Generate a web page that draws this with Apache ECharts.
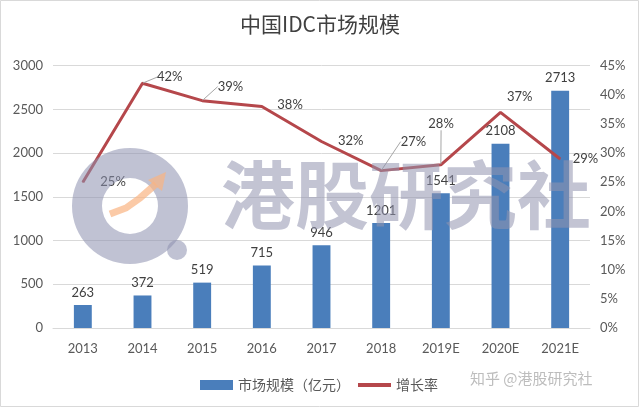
<!DOCTYPE html>
<html><head><meta charset="utf-8">
<script src="https://cdn.jsdelivr.net/npm/echarts@6/dist/echarts.min.js"></script>
<style>html,body{margin:0;padding:0;background:#fff}#c{width:640px;height:408px}</style>
</head><body><div id="c"></div>
<script>
var categories = ['2013','2014','2015','2016','2017','2018','2019E','2020E','2021E'];
var marketSize = [263, 372, 519, 715, 946, 1201, 1541, 2108, 2713];
var growthRate = [25, 42, 39, 38, 32, 27, 28, 37, 29];
var leftTicks = {min: 0, max: 3000, interval: 500};
var rightTicks = {min: 0, max: 45, interval: 5};
var labelOffsets = [[17,0],[14,-6],[15,-14],[15,-2],[16,-1],[19,-29],[-13,-41],[6,-16],[12,0]];
var withLeader = [false, true, true, false, false, true, true, false, false];

var numFont = 'Lato, "Noto Sans CJK SC", sans-serif';
var cjkFont = '"Noto Sans CJK SC", sans-serif';
var chart = echarts.init(document.getElementById('c'), null, {renderer: 'canvas'});
var lineData = growthRate.map(function (v, i) {
  return {value: v, labelLine: {show: withLeader[i]}};
});
chart.setOption({
  animation: false,
  backgroundColor: '#fff',
  title: {
    text: '中国IDC市场规模', left: 'center', top: 9,
    textStyle: {fontFamily: cjkFont, fontSize: 21, fontWeight: 'normal', color: '#404040'}
  },
  grid: {left: 53, right: 50, top: 65.7, bottom: 80},
  legend: {
    left: 195, top: 373, itemWidth: 33, itemHeight: 10, itemGap: 8,
    textStyle: {fontFamily: cjkFont, fontSize: 14, color: '#595959'},
    data: [
      {name: '市场规模（亿元）', icon: 'rect'},
      {name: '增长率', icon: 'path://M0,0H33V4H0Z'}
    ]
  },
  xAxis: {
    type: 'category', data: categories,
    axisLine: {lineStyle: {color: '#d9d9d9'}},
    axisTick: {show: false},
    axisLabel: {fontFamily: numFont, fontSize: 13, color: '#595959', margin: 14}
  },
  yAxis: [{
    type: 'value', min: leftTicks.min, max: leftTicks.max, interval: leftTicks.interval,
    axisLine: {show: false}, axisTick: {show: false},
    axisLabel: {fontFamily: numFont, fontSize: 13, color: '#595959', margin: 10,
      formatter: function (v) { return String(v); }},
    splitLine: {lineStyle: {color: '#d9d9d9'}}
  }, {
    type: 'value', min: rightTicks.min, max: rightTicks.max, interval: rightTicks.interval,
    axisLine: {show: false}, axisTick: {show: false},
    axisLabel: {fontFamily: numFont, fontSize: 13, color: '#595959', margin: 10, formatter: '{value}%'},
    splitLine: {show: false}
  }],
  series: [{
    name: '市场规模（亿元）', type: 'bar', data: marketSize, barWidth: '30%',
    itemStyle: {color: '#4a7ebb'},
    label: {show: true, position: 'top', distance: 6, fontFamily: numFont, fontSize: 13, color: '#404040'}
  }, {
    name: '增长率', type: 'line', yAxisIndex: 1, data: lineData,
    symbol: 'circle', symbolSize: 1, showSymbol: true,
    itemStyle: {color: '#b5474b'},
    lineStyle: {color: '#b5474b', width: 3},
    label: {show: true, position: 'right', distance: 0, fontFamily: numFont, fontSize: 13, color: '#404040',
      formatter: function (p) { return p.value + '%'; }},
    labelLine: {show: false, lineStyle: {color: '#a6a6a6', width: 1}},
    labelLayout: function (p) {
      var o = labelOffsets[p.dataIndex];
      return {dx: o[0], dy: o[1]};
    }
  }],
  graphic: [
    {type: 'rect', shape: {x: 0.5, y: 0.5, width: 638, height: 406}, style: {fill: 'none', stroke: '#d9d9d9', lineWidth: 1}, z: 100},
    {type: 'ring', shape: {cx: 130, cy: 206, r: 58, r0: 28}, style: {fill: 'rgba(140,143,175,0.55)'}, z: 50},
    {type: 'circle', shape: {cx: 177, cy: 250, r: 10}, style: {fill: 'rgba(140,143,175,0.55)'}, z: 50},
    {type: 'polyline', shape: {points: [[110, 214], [126, 208], [140, 198], [156, 184]]}, style: {stroke: 'rgba(250,180,130,0.7)', lineWidth: 7, fill: 'none'}, z: 50},
    {type: 'polygon', shape: {points: [[148, 180], [166, 172], [162, 191]]}, style: {fill: 'rgba(250,180,130,0.7)'}, z: 50},
    {type: 'text', left: 221, top: 158, style: {text: '港股研究社', font: 'bold 74px "Noto Sans CJK SC", sans-serif', fill: 'rgba(145,148,175,0.55)'}, z: 50},
    {type: 'text', left: 470, top: 371, style: {text: '知乎 @港股研究社', font: '15px "Noto Sans CJK SC", sans-serif', fill: '#bdbdbd'}, z: 50}
  ]
});
</script></body></html>
